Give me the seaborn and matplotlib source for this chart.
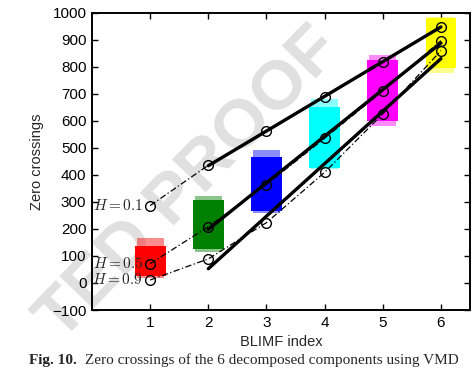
import numpy as np
import pandas as pd
import seaborn as sns
import matplotlib
matplotlib.use('Agg')
import matplotlib.pyplot as plt

# zero crossings of each BLIMF for three Hurst exponents
blimf = [1, 2, 3, 4, 5, 6]
zc_h01 = [286, 435, 561, 688, 818, 948]
zc_h05 = [71, 208, 364, 535, 710, 896]
zc_h09 = [11, 89, 223, 409, 625, 859]
h_labels = ['$H = 0.1$', '$H = 0.5$', '$H = 0.9$']

# spread of the zero-crossing clouds per component (dense core / sparse outer)
cloud_colors = ['#ff0000', '#008000', '#0000ff', '#00ffff', '#ff00ff', '#ffff00']
core_low = [25, 124, 265, 426, 600, 795]
core_high = [138, 305, 467, 650, 824, 978]
outer_low = [18, 115, 258, 420, 581, 777]
outer_high = [166, 321, 491, 680, 842, 985]

sns.set_style('ticks')
plt.rcParams['font.family'] = ['Liberation Sans', 'DejaVu Sans']
plt.rcParams['mathtext.fontset'] = 'cm'

fig = plt.figure(figsize=(4.74, 3.68), dpi=100)
ax = fig.add_axes([92 / 474, 1 - 310 / 368, 378 / 474, 297.5 / 368])
ax.set_facecolor('none')

# watermark behind everything
fig.text(0.40, 0.50, 'TED PROOF', rotation=46, fontsize=50, color='#e0e0e0',
         weight='bold', ha='center', va='center', zorder=-5)

# clouds
ax.bar(blimf, np.subtract(outer_high, outer_low), bottom=outer_low, width=0.46,
       color=cloud_colors, alpha=0.45, linewidth=0, zorder=1)
ax.bar(blimf, np.subtract(core_high, core_low), bottom=core_low, width=0.53,
       color=cloud_colors, linewidth=0, zorder=2)

df = pd.DataFrame({'blimf': blimf, 'h01': zc_h01, 'h05': zc_h05, 'h09': zc_h09})
fit_part = df[df['blimf'] >= 2]

for col in ['h01', 'h05', 'h09']:
    sns.lineplot(data=df, x='blimf', y=col, ax=ax, color='k', lw=0.9,
                 linestyle=(0, (5, 2, 1, 2)), marker='o', markersize=7,
                 markerfacecolor='none', markeredgecolor='k',
                 markeredgewidth=1.0, zorder=4)
    sns.regplot(data=fit_part, x='blimf', y=col, ax=ax, scatter=False, ci=None,
                truncate=True, color='k', line_kws={'lw': 2.4, 'zorder': 3})

for lab, y in zip(h_labels, [zc_h01[0], zc_h05[0], zc_h09[0]]):
    ax.text(0.88, y, lab, ha='right', va='center', fontsize=11, zorder=5)

ax.set_xlim(0, 6.5)
ax.set_ylim(-100, 1000)
ax.set_xticks(blimf)
ax.set_yticks(range(-100, 1001, 100))
ax.set_yticklabels(['\u2212100'] + [str(v) for v in range(0, 1001, 100)])
ax.tick_params(direction='in', top=True, right=True, length=4, width=1,
               labelsize=11, colors='k', pad=4)
for s in ax.spines.values():
    s.set_linewidth(1.4)
    s.set_color('k')
ax.set_xlabel('BLIMF index', fontsize=10.5, labelpad=4)
ax.set_ylabel('Zero crossings', fontsize=10.5, labelpad=6)

# caption: bold figure number, then the plain text right after it
cap_y = 1 - 364 / 368
t1 = fig.text(29 / 474, cap_y, 'Fig. 10.', family='Liberation Serif',
              weight='bold', fontsize=11, va='baseline')
fig.canvas.draw()
x_end = t1.get_window_extent().x1 / fig.bbox.width
fig.text(x_end + 8 / 474, cap_y,
         'Zero crossings of the 6 decomposed components using VMD',
         family='Liberation Serif', fontsize=11, va='baseline')

fig.savefig('out.png', dpi=100)
